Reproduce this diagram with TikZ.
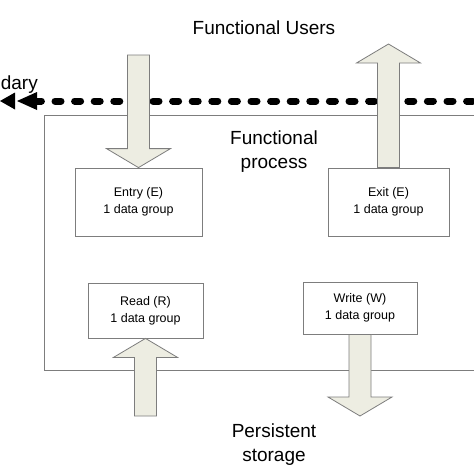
\documentclass[tikz,border=0pt]{standalone}
\usepackage{fontspec}
\setmainfont{Liberation Sans}
\usetikzlibrary{calc}
\definecolor{arrowfill}{RGB}{237,237,226}
\definecolor{edgegray}{RGB}{125,125,125}
\newcommand\blockarrow[2]{%
  \path[barrow] let \p1=(#1), \p2=(#2), \n1={(\y2>\y1) ? 1 : -1} in
    ({\x2-11pt},\y1) -- ({\x2+11pt},\y1) -- ({\x2+11pt},{\y2-\n1*19pt})
    -- ({\x2+32pt},{\y2-\n1*19pt}) -- (\x2,\y2) -- ({\x2-32pt},{\y2-\n1*19pt})
    -- ({\x2-11pt},{\y2-\n1*19pt}) -- cycle;}
\begin{document}
\begin{tikzpicture}[x=1pt,y=-1pt,
  box/.style={draw=edgegray, line width=0.8pt, fill=white, inner sep=0pt, align=center,
    font=\fontsize{12.5}{17}\selectfont},
  barrow/.style={draw=edgegray, line width=0.8pt, fill=arrowfill, line join=miter},
  bigtext/.style={font=\fontsize{19}{24}\selectfont, align=center, inner sep=0pt},
  frameline/.style={draw=edgegray, line width=0.9pt},
  boundaryline/.style={line width=7pt, dash pattern=on 6pt off 13.6pt, line cap=round}]
\useasboundingbox (0,0) rectangle (474,474);
\fill[white] (0,0) rectangle (474,474);
\clip (0,0) rectangle (474,474);
% functional process frame
\coordinate (ftr) at (480,115);
\coordinate (ftl) at (44,115);
\coordinate (fbl) at (44,370);
\coordinate (fbr) at (480,370);
\draw[frameline] (ftr) -- (ftl) -- (fbl) -- (fbr);
% boundary
\coordinate (bR) at (490,101);
\coordinate (bL) at (35.4,101);
\draw[boundaryline] (bL) -- (bR);
\fill (0,101) -- (15,92.5) -- (15,109.5) -- cycle;
\fill (17,101) -- (37,92) -- (37,110) -- cycle;
\node[bigtext, anchor=base east] (bnd) at (38,89) {Boundary};
% texts
\node[bigtext, anchor=base] (users) at (264,34) {Functional Users};
\node[bigtext] (proc) at (274,152) {Functional\\process};
\node[bigtext] (store) at (274,445) {Persistent\\storage};
% boxes
\node[box, minimum width=127pt, minimum height=68pt] (entry) at (138.5,202) {Entry (E)\\1 data group};
\node[box, minimum width=121pt, minimum height=68pt] (exit) at (388.5,202) {Exit (E)\\1 data group};
\node[box, minimum width=115pt, minimum height=55pt] (read) at (145.5,310.5) {Read (R)\\1 data group};
\node[box, minimum width=114pt, minimum height=52pt] (write) at (360,308) {Write (W)\\1 data group};
% arrows
\coordinate (ein) at (138.5,55);
\coordinate (eout) at (388.5,44);
\coordinate (rin) at (145.5,416);
\coordinate (wout) at (360,416);
\blockarrow{ein}{entry.north}
\blockarrow{exit.north}{eout}
\blockarrow{rin}{read.south}
\blockarrow{write.south}{wout}
\end{tikzpicture}
\end{document}
